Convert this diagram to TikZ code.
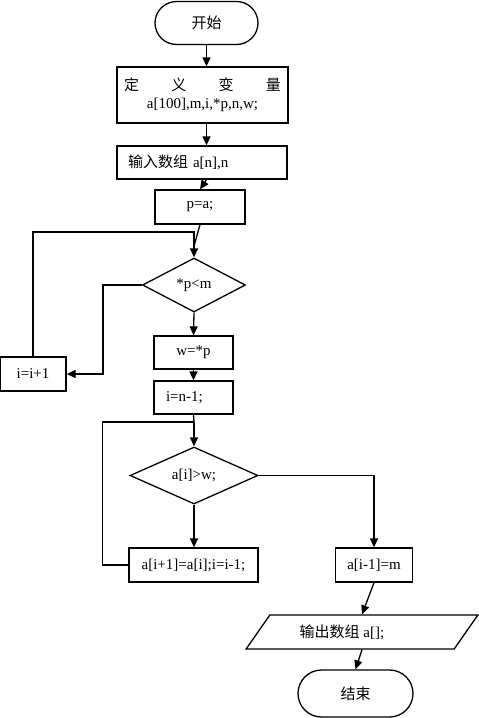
\documentclass[tikz,border=0pt]{standalone}
\usepackage{fontspec}
\setmainfont{Liberation Serif}
\newfontfamily\cjk{Noto Sans CJK SC}
\usetikzlibrary{shapes.geometric, shapes.misc, arrows.meta, positioning}

\tikzset{
  box/.style={draw, rectangle, inner sep=0pt},
  term/.style={draw, rounded rectangle, inner sep=0pt},
  decision/.style={draw, diamond, inner sep=0pt},
  iobox/.style={draw, trapezium, trapezium left angle=43, trapezium right angle=137,
    trapezium stretches=true, inner sep=0pt},
  arr/.style={-{Triangle[length=9pt, width=8pt]}}
}

\begin{document}
\begin{tikzpicture}[x=1pt, y=-1pt, line width=1.3pt, font=\fontsize{15}{18}\selectfont]
    \useasboundingbox (0,0) rectangle (479,718);

    % Start, definitions, input
    \node[term, minimum width=103, minimum height=43] (start) at (206.5,23) {\cjk 开始};
    \node[box, minimum width=171, minimum height=56, align=center] (def) at (202.5,95)
        {\makebox[157pt][s]{\cjk 定\hfill 义\hfill 变\hfill 量}\\ a[100],m,i,*p,n,w;};
    \node[box, minimum width=170, minimum height=33, text width=148, align=left] (input) at (202,162.5)
        {{\cjk 输入数组} a[n],n};
    \node[box, minimum width=90, minimum height=34] (pa) at (200,207) {p=a;};

    % First loop
    \node[decision, minimum width=103, minimum height=54] (d1) at (194,285) {*p<m};
    \node[box, minimum width=66, minimum height=34] (inc) at (33,374) {i=i+1};
    \node[box, minimum width=79, minimum height=33] (wp) at (193.5,352.5) {w=*p};
    \node[box, minimum width=79, minimum height=33, text width=55, align=left] (in1) at (193.5,397.5) {i=n-1;};

    % Second loop
    \node[decision, minimum width=128, minimum height=55] (d2) at (194,475.5) {a[i]>w;};
    \node[box, minimum width=129, minimum height=34] (shift) at (193.5,565) {a[i+1]=a[i];i=i-1;};
    \node[box, minimum width=77, minimum height=34] (set) at (374,565) {a[i-1]=m};

    % Output and end
    \node[iobox, minimum width=232, minimum height=34] (out) at (362,632) {{\cjk 输出数组} a[];\hspace*{40pt}};
    \node[term, minimum width=115, minimum height=47] (end) at (355.5,693.5) {\cjk 结束};

    \coordinate (top1) at (194,232);
    \coordinate (j1) at (194,246);
    \coordinate (top2) at (194,422);

    % Connectors
    \draw[arr] (start.south) -- (start.south |- def.north);
    \draw[arr] (def.south -| start) -- (input.north -| start);
    \draw[arr] (input.south -| start) -- (pa.north);
    \draw (pa.south) -- (j1);
    \draw[arr] (j1) -- (d1.north);
    \draw (inc.north) |- (top1) -- (j1);
    \draw[arr] (d1.west) -- ++(-39,0) |- (inc.east);
    \draw[arr] (d1.south) -- (wp.north);
    \draw[arr] (wp.south) -- (in1.north);
    \draw (in1.south) -- (top2);
    \draw[arr] (top2) -- (d2.north);
    \draw (shift.west) -- ++(-26,0) |- (top2);
    \draw[arr] (d2.south) -- (d2.south |- shift.north);
    \draw[arr] (d2.east) -| (set.north);
    \draw[arr] (set.south) -- (out.north);
    \draw[arr] (out.south) -- (end.north);
\end{tikzpicture}
\end{document}
